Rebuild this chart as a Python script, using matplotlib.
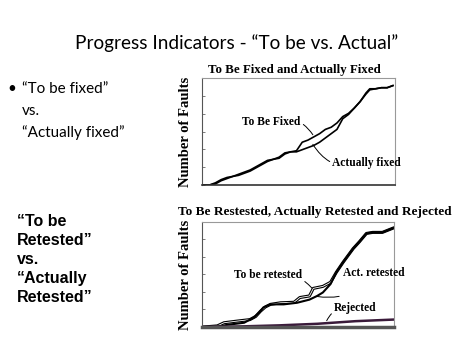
import numpy as np
import matplotlib
matplotlib.use('Agg')
import matplotlib.pyplot as plt

# top chart: time (% of period) vs faults (% of axis)
fix_x = [0, 4, 7, 10, 13, 16, 19, 22, 25, 28, 31, 34, 37, 40, 43, 46, 49, 52, 55,
         58, 61, 64, 67, 70, 73, 76, 79, 82, 85, 87, 90, 93, 96, 99]
to_be_fixed = [0, 0, 2, 5, 7, 8, 10, 12, 14, 17, 20, 23, 24, 26, 30, 31, 32, 40, 42,
               45, 48, 52, 54, 58, 64, 67, 72, 78, 86, 90, 90, 91, 91, 93]
actually_fixed = [0, 0, 1, 4, 6, 8, 9, 11, 13, 16, 19, 22, 24, 25, 29, 31, 31, 33, 35,
                  37, 40, 44, 48, 52, 62, 66, 72, 78, 85, 89, 90, 91, 91, 93]

# bottom chart
rt_x = [1, 8, 11.5, 18, 25, 28, 30.5, 33, 35.7, 41, 48, 51, 56, 57, 58, 63, 67, 70,
        73.6, 78.8, 82, 85.7, 89, 94, 99.5]
to_be_retested = [0, 1, 4, 5.5, 7, 10, 15, 19, 21.5, 23, 23.5, 28, 29.5, 33, 36.7,
                  38.6, 42.5, 52, 61.7, 74.6, 81, 89, 90, 90, 94]
act_x = [1, 10, 13, 22, 27, 30, 32, 35.7, 42.6, 49.5, 56, 60, 63, 67, 70, 73.6,
         78.8, 82, 85.7, 89, 94, 99.5]
act_retested = [0, 0.6, 2, 4, 9, 14, 18.6, 21.5, 21.5, 23, 26, 29.5, 32.8, 40.8, 52,
                61.7, 74.6, 81, 89, 90, 90, 94]
rej_x = [0, 20, 40, 60, 80, 99.5]
rejected = [0, 0.5, 1.5, 3, 5.5, 7]

fig = plt.figure(figsize=(4.74, 3.55), dpi=100)
fig.patch.set_facecolor('white')

# slide text
fig.text(0.5, 0.88, 'Progress Indicators - \u201cTo be vs. Actual\u201d',
         ha='center', va='center', fontsize=13.7, family='Lato')
fig.text(0.016, 0.748, '\u2022', fontsize=11, family='Lato', va='center')
fig.text(0.046, 0.748, '\u201cTo be fixed\u201d', fontsize=11, family='Lato', va='center')
fig.text(0.046, 0.687, 'vs.', fontsize=11, family='Lato', va='center')
fig.text(0.046, 0.628, '\u201cActually fixed\u201d', fontsize=11, family='Lato', va='center')
fig.text(0.036, 0.398, '\u201cTo be\nRetested\u201d\nvs.\n\u201cActually\nRetested\u201d',
         fontsize=11.5, family='Liberation Sans', weight='bold', va='top',
         linespacing=1.33)

serif = dict(family='Liberation Serif', weight='bold')


def style_ax(ax):
    ax.set_xlim(0, 100)
    ax.set_ylim(0, 100)
    ax.set_xticks([])
    ax.set_yticks(np.linspace(0, 100, 7))
    ax.set_yticklabels([])
    ax.tick_params(axis='y', direction='in', length=2.5, width=0.6, color='#666666')
    for s in ['top', 'right']:
        ax.spines[s].set_color('#999999')
        ax.spines[s].set_linewidth(0.8)
    ax.spines['left'].set_color('#555555')
    ax.spines['left'].set_linewidth(0.8)
    ax.spines['bottom'].set_color('#333333')
    ax.spines['bottom'].set_linewidth(1.2)
    ax.set_ylabel('Number of Faults', fontsize=10.5, labelpad=4, **serif)


def note(ax, text, xy, xytext, shrink, rad):
    ax.annotate(text, xy=xy, xytext=xytext,
                textcoords='axes fraction', xycoords='axes fraction',
                ha='center', va='center', fontsize=8.3,
                arrowprops=dict(arrowstyle='-', lw=0.7, color='black',
                                shrinkA=shrink, shrinkB=0,
                                connectionstyle='arc3,rad=%s' % rad), **serif)


ax1 = fig.add_axes([0.426, 0.479, 0.407, 0.301])
ax1.plot(fix_x, to_be_fixed, color='black', lw=1.2)
ax1.plot(fix_x, actually_fixed, color='black', lw=1.2)
style_ax(ax1)
fig.text(0.621, 0.803, 'To Be Fixed and Actually Fixed', ha='center', va='center',
         fontsize=9.3, **serif)
note(ax1, 'To Be Fixed', (0.575, 0.47), (0.36, 0.59), 20, -0.4)
note(ax1, 'Actually fixed', (0.575, 0.38), (0.855, 0.205), 24, -0.4)

ax2 = fig.add_axes([0.426, 0.079, 0.405, 0.296])
ax2.plot(rt_x, to_be_retested, color='black', lw=2.2)
ax2.plot(rt_x, to_be_retested, color='white', lw=0.6)
ax2.plot(act_x, act_retested, color='black', lw=1.5)
ax2.plot(rej_x, rejected, color='#3a1a3a', lw=1.8)
style_ax(ax2)
ax2.spines['bottom'].set_color('#555555')
ax2.spines['bottom'].set_linewidth(2.5)
fig.text(0.664, 0.403, 'To Be Restested, Actually Retested and Rejected',
         ha='center', va='center', fontsize=9.5, **serif)
note(ax2, 'To be retested', (0.573, 0.37), (0.344, 0.495), 22, -0.3)
note(ax2, 'Act. retested', (0.6, 0.29), (0.896, 0.51), 22, -0.3)
note(ax2, 'Rejected', (0.65, 0.06), (0.80, 0.18), 18, 0.4)

plt.savefig('out.png', dpi=100)
